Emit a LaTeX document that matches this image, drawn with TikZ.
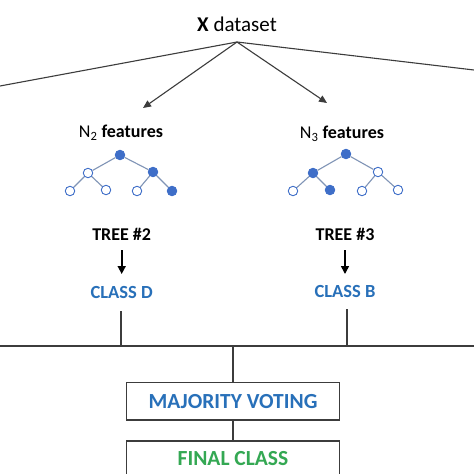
\documentclass[tikz,border=0pt]{standalone}
\usepackage{fontspec}
\setmainfont{Carlito}
\usetikzlibrary{arrows.meta}
\definecolor{cblue}{RGB}{40,112,185}
\definecolor{nblue}{RGB}{62,110,200}
\definecolor{eblue}{RGB}{128,148,182}
\definecolor{cgreen}{RGB}{52,168,83}
\definecolor{lgray}{RGB}{60,60,60}
\begin{document}
\begin{tikzpicture}[x=1pt,y=-1pt,
  conn/.style={draw=lgray,line width=1.1pt},
  arr/.style={conn,-{Triangle[length=8pt,width=7pt]}},
  darr/.style={draw=black,line width=1.6pt,-{Triangle[length=8pt,width=8pt]}},
  tnode/.style={circle,draw=nblue,fill=white,line width=0.9pt,inner sep=0pt,minimum size=9.5pt},
  tfill/.style={tnode,fill=nblue},
  tedge/.style={draw=eblue,line width=1.1pt},
  feat/.style={font=\fontsize{18}{20}\selectfont},
  treelbl/.style={font=\fontsize{18}{20}\selectfont\bfseries},
  cls/.style={font=\fontsize{18.5}{20}\selectfont\bfseries,text=cblue},
  box/.style={draw=lgray,line width=1.3pt,minimum width=212.6pt,inner sep=0pt,font=\fontsize{21.5}{24}\selectfont\bfseries}
]
\useasboundingbox (0,0) rectangle (474,474);
\clip (0,0) rectangle (474,474);
\fill[white] (0,0) rectangle (474,474);

% top
\node[font=\fontsize{21}{24}\selectfont] (X) at (237,24) {\textbf{X} dataset};
\coordinate (apex) at (237,42);
\coordinate (lend) at (0,86);
\coordinate (rend) at (474,70);
\coordinate (a2) at (143,108);
\coordinate (a3) at (327,103);
\draw[conn] (lend) -- (apex) -- (rend);
\draw[arr] (apex) -- (a2);
\draw[arr] (apex) -- (a3);

% left tree
\node[feat] (f2) at (121,133) {N\textsubscript{2} \textbf{features}};
\node[tfill] (r2) at (120,155) {};
\node[tnode] (l2) at (88,173) {};
\node[tfill] (q2) at (153,172) {};
\node[tnode] (ll2) at (70,191) {};
\node[tnode] (lr2) at (106,190) {};
\node[tnode] (ql2) at (137,191) {};
\node[tfill] (qr2) at (172,191) {};
\draw[tedge] (r2) -- (l2); \draw[tedge] (r2) -- (q2);
\draw[tedge] (l2) -- (ll2); \draw[tedge] (l2) -- (lr2);
\draw[tedge] (q2) -- (ql2); \draw[tedge] (q2) -- (qr2);

% right tree
\node[feat] (f3) at (342,134) {N\textsubscript{3} \textbf{features}};
\node[tfill] (r3) at (346,154) {};
\node[tfill] (l3) at (313,173) {};
\node[tnode] (q3) at (378,172) {};
\node[tnode] (ll3) at (293,191) {};
\node[tfill] (lr3) at (330,190) {};
\node[tnode] (ql3) at (362,191) {};
\node[tnode] (qr3) at (398,190) {};
\draw[tedge] (r3) -- (l3); \draw[tedge] (r3) -- (q3);
\draw[tedge] (l3) -- (ll3); \draw[tedge] (l3) -- (lr3);
\draw[tedge] (q3) -- (ql3); \draw[tedge] (q3) -- (qr3);

% tree labels and classes
\node[treelbl] (t2) at (121.7,234) {TREE \#2};
\node[treelbl] (t3) at (345,234) {TREE \#3};
\coordinate (d2a) at (121.7,250); \coordinate (d2b) at (121.7,274);
\coordinate (d3a) at (345,250); \coordinate (d3b) at (345,274);
\draw[darr] (d2a) -- (d2b);
\draw[darr] (d3a) -- (d3b);
\node[cls] (c2) at (121.7,292) {CLASS D};
\node[cls] (c3) at (345,291) {CLASS B};

% collection
\coordinate (v2a) at (121,311); \coordinate (v2b) at (121,346);
\coordinate (v3a) at (347,309); \coordinate (v3b) at (347,346);
\coordinate (hl) at (0,346); \coordinate (hr) at (474,346);
\coordinate (hc) at (233,346);
\draw[conn] (hl) -- (hr);
\draw[conn] (v2a) -- (v2b);
\draw[conn] (v3a) -- (v3b);

\node[box,text=cblue,minimum height=37.3pt] (mv) at (233,401.3) {MAJORITY VOTING};
\node[box,text=cgreen,minimum height=35pt] (fc) at (233,458.5) {FINAL CLASS};
\draw[conn] (hc) -- (mv.north);
\draw[conn] (mv.south) -- (fc.north);
\end{tikzpicture}
\end{document}
